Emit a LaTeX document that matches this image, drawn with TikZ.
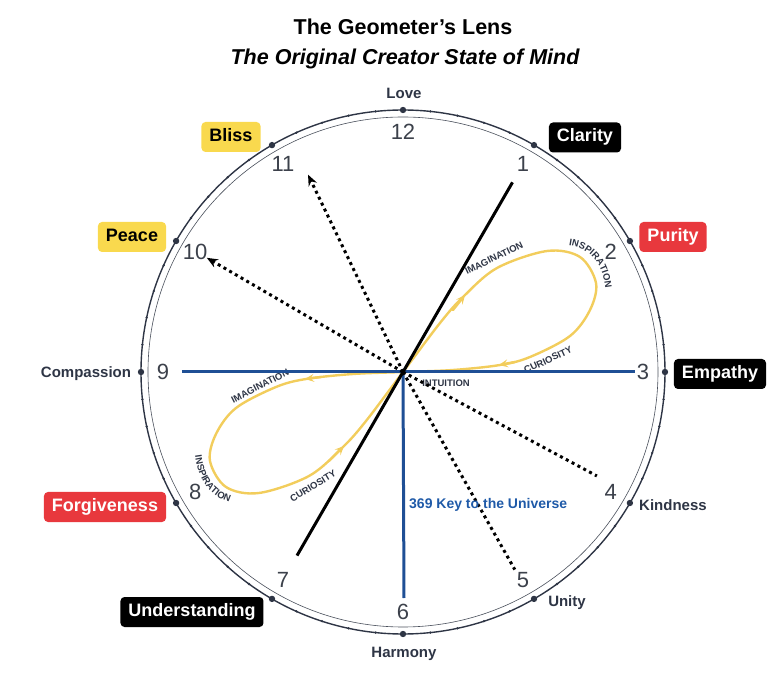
\documentclass[tikz,border=0pt]{standalone}
\usepackage{fontspec}
\setmainfont{Liberation Sans}
\usetikzlibrary{arrows.meta,decorations.text}
\definecolor{ink}{HTML}{2E3545}
\definecolor{ringgray}{HTML}{4A505C}
\definecolor{numgray}{HTML}{3C414B}
\definecolor{handblue}{HTML}{1F4F95}
\definecolor{keyblue}{HTML}{1F5AA8}
\definecolor{lensyellow}{HTML}{F2CD5C}
\definecolor{boxyellow}{HTML}{F9D94E}
\definecolor{boxred}{HTML}{E8383D}
\newcommand\tagfont{\bfseries\fontsize{9.5}{10}\selectfont}
\tikzset{
  boxlabel/.style={rounded corners=4pt, inner xsep=8pt, inner ysep=6.5pt, text height=13pt, text depth=4pt,
    font=\bfseries\fontsize{18}{18}\selectfont},
  darkbox/.style={boxlabel, fill=black, text=white},
  redbox/.style={boxlabel, fill=boxred, text=white},
  yellowbox/.style={boxlabel, fill=boxyellow, text=black},
  plainlabel/.style={font=\bfseries\fontsize{15}{15}\selectfont, text=ink, inner sep=0pt},
  num/.style={font=\fontsize{22}{22}\selectfont, text=numgray, inner sep=0pt},
  tag/.style={font=\tagfont, text=ink, inner sep=0pt},
  curvetag/.style={decorate, decoration={text along path, text align=center, text={|\tagfont\color{ink}|#1}}},
  dotline/.style={line width=3pt, dash pattern=on 3pt off 3.6pt},
  lensloop/.style={lensyellow, line width=2.4pt},
  lensarrow/.style={lensloop, line cap=round, -{Stealth[length=9pt,width=8pt,inset=3.5pt]}},
}
\begin{document}
\begin{tikzpicture}[x=1pt, y=1pt, line join=round]
	\def\R{262} \def\r{255} \def\N{240} % rings, numbers
	\useasboundingbox (-403,-310) rectangle (373,372);
	\node[font=\bfseries\fontsize{21.5}{24}\selectfont] (title) at (0,345) {The Geometer’s Lens};
	\node[font=\bfseries\itshape\fontsize{21.5}{24}\selectfont] (subtitle) at (2,313) {The Original Creator State of Mind};
	% dial
	\draw[ink, line width=1.4pt] (0,0) circle (\R);
	\draw[ringgray, line width=0.6pt] (0,0) circle (\r);
	\foreach \m in {0,...,59} \fill[ink] (\m*6:\R) circle (1.3);
	\foreach \h in {1,...,12} {
		\fill[ink] (90-\h*30:\R) circle (3.2);
		\node[num] (n\h) at (90-\h*30:\N) {\h};
	}
	% states
	\node[plainlabel] (love) at (1,279) {Love};
	\node[darkbox] (clarity) at (182,234.5) {Clarity};
	\node[redbox] (purity) at (270,135) {Purity};
	\node[darkbox] (empathy) at (317,-2) {Empathy};
	\node[plainlabel] (kindness) at (270,-133) {Kindness};
	\node[plainlabel] (unity) at (164,-231) {Unity};
	\node[plainlabel] (harmony) at (1,-282) {Harmony};
	\node[darkbox] (understanding) at (-211,-240) {Understanding};
	\node[redbox] (forgiveness) at (-298,-135) {Forgiveness};
	\node[plainlabel] (compassion) at (-317,-2) {Compassion};
	\node[yellowbox] (peace) at (-271,135) {Peace};
	\node[yellowbox] (bliss) at (-172,235) {Bliss};
	% lens
	\draw[lensloop] plot[smooth cycle, tension=0.55] coordinates {(0,0) (37,49) (60,75) (94,104) (144,121) (177,115)
		(193,89) (187,62) (167,36) (127,15) (97,7) (50,2) (0,0) (-50,-2) (-97,-7) (-127,-15) (-167,-36) (-187,-62)
		(-193,-89) (-177,-115) (-144,-121) (-94,-104) (-60,-75) (-37,-49)};
	\draw[lensarrow] (50,62) -- (62,77);
	\draw[lensarrow] (112,10) -- (96,7);
	\draw[lensarrow] (-82,-5) -- (-98,-7);
	\draw[lensarrow] (-74,-89) -- (-59,-74);
	\node[tag, rotate=26] (imag1) at (91,114) {IMAGINATION};
	\path[curvetag=INSPIRATION] (158,127) .. controls (185,127) and (202,110) .. (203,76);
	\node[tag, rotate=25] (cur1) at (145,12) {CURIOSITY};
	\node[tag] (intuition) at (43,-11) {INTUITION};
	\node[tag, rotate=27] (imag2) at (-143,-14) {IMAGINATION};
	\path[curvetag=INSPIRATION] (-209,-70) .. controls (-208,-110) and (-191,-130) .. (-160,-133);
	\node[tag, rotate=31] (cur2) at (-90,-114) {CURIOSITY};
	% hands
	\coordinate (O) at (0,0);
	\coordinate (b9) at (-221,0); \coordinate (b3) at (232,0); \coordinate (b6) at (1,-226);
	\coordinate (k1) at (60:219); \coordinate (k7) at (240:212);
	\coordinate (d11) at (115.7:219); \coordinate (d10) at (149.8:227);
	\coordinate (d4) at (-28.2:220); \coordinate (d5) at (-60.5:227);
	\draw[handblue, line width=3pt] (b9) -- (b3);
	\draw[handblue, line width=3pt] (O) -- (b6);
	\draw[black, line width=3pt] (k7) -- (k1);
	\draw[dotline, -{Stealth[length=11pt,width=9pt]}] (O) -- (d11);
	\draw[dotline, -{Stealth[length=11pt,width=9pt]}] (O) -- (d10);
	\draw[dotline] (O) -- (d4);
	\draw[dotline] (O) -- (d5);
	\node[anchor=west, font=\bfseries\fontsize{14}{14}\selectfont, text=keyblue, inner sep=0pt] (key) at (6,-133) {369 Key to the Universe};
\end{tikzpicture}
\end{document}
